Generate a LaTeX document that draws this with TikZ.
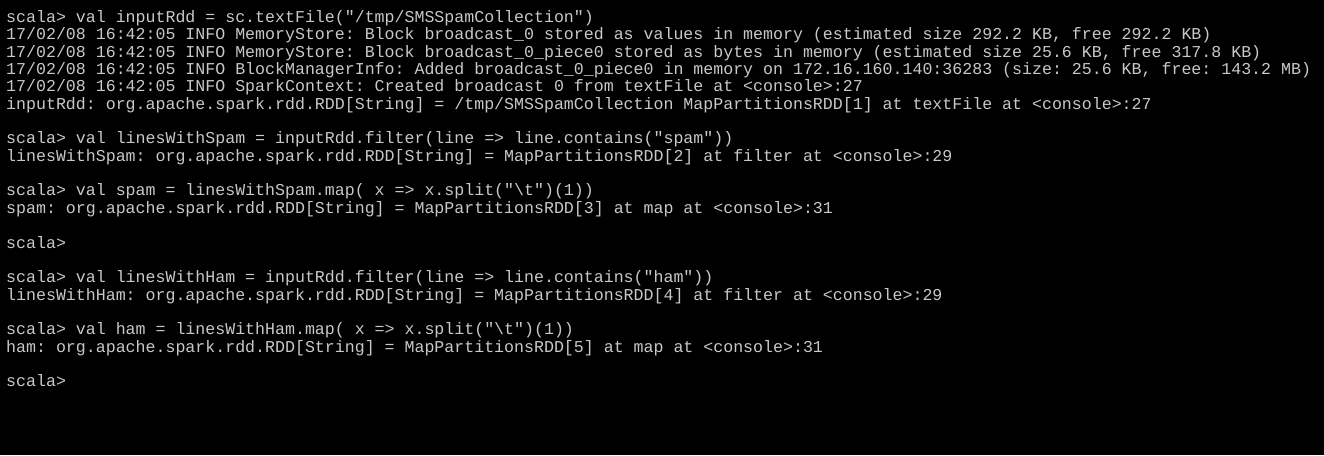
\documentclass[tikz,border=0pt]{standalone}
\usepackage{fontspec}
\setmonofont{Liberation Mono}[Ligatures=NoCommon]
\definecolor{term}{HTML}{C8C8C8}
\begin{document}
\begin{tikzpicture}[x=1pt,y=1pt,
  ln/.style={anchor=base west,inner sep=0pt,text=term,font=\ttfamily\fontsize{16.6}{17.3}\selectfont}]
\fill[black] (0,0) rectangle (1324,455);
\useasboundingbox (0,0) rectangle (1324,455);
\def\L#1#2{\node[ln] (l#1) at (6,{455-22.5-17.35*(#1-1)}) {#2};}
\L{1}{scala> val inputRdd = sc.textFile("/tmp/SMSSpamCollection")}
\L{2}{17/02/08 16:42:05 INFO MemoryStore: Block broadcast\_0 stored as values in memory (estimated size 292.2 KB, free 292.2 KB)}
\L{3}{17/02/08 16:42:05 INFO MemoryStore: Block broadcast\_0\_piece0 stored as bytes in memory (estimated size 25.6 KB, free 317.8 KB)}
\L{4}{17/02/08 16:42:05 INFO BlockManagerInfo: Added broadcast\_0\_piece0 in memory on 172.16.160.140:36283 (size: 25.6 KB, free: 143.2 MB)}
\L{5}{17/02/08 16:42:05 INFO SparkContext: Created broadcast 0 from textFile at <console>:27}
\L{6}{inputRdd: org.apache.spark.rdd.RDD[String] = /tmp/SMSSpamCollection MapPartitionsRDD[1] at textFile at <console>:27}
\L{8}{scala> val linesWithSpam = inputRdd.filter(line => line.contains("spam"))}
\L{9}{linesWithSpam: org.apache.spark.rdd.RDD[String] = MapPartitionsRDD[2] at filter at <console>:29}
\L{11}{scala> val spam = linesWithSpam.map( x => x.split("\textbackslash t")(1))}
\L{12}{spam: org.apache.spark.rdd.RDD[String] = MapPartitionsRDD[3] at map at <console>:31}
\L{14}{scala>}
\L{16}{scala> val linesWithHam = inputRdd.filter(line => line.contains("ham"))}
\L{17}{linesWithHam: org.apache.spark.rdd.RDD[String] = MapPartitionsRDD[4] at filter at <console>:29}
\L{19}{scala> val ham = linesWithHam.map( x => x.split("\textbackslash t")(1))}
\L{20}{ham: org.apache.spark.rdd.RDD[String] = MapPartitionsRDD[5] at map at <console>:31}
\L{22}{scala>}
\end{tikzpicture}
\end{document}
